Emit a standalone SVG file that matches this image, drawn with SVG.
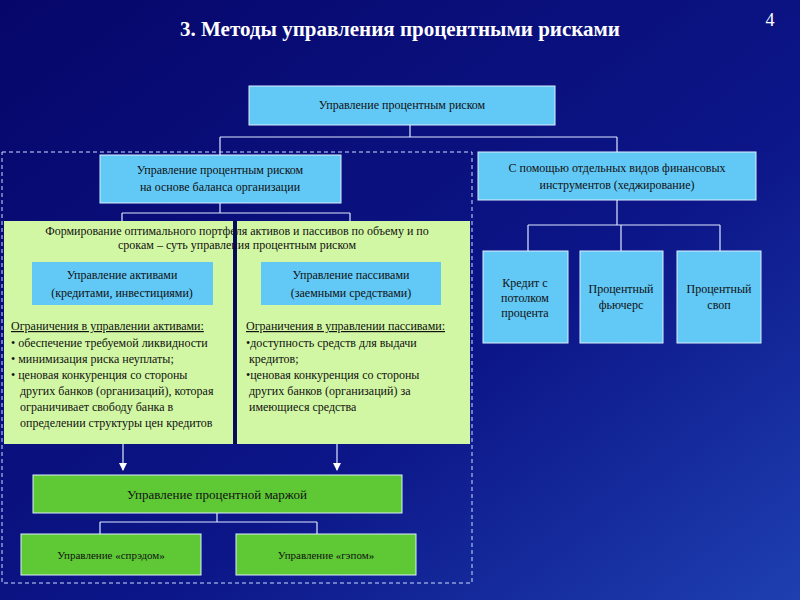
<svg xmlns="http://www.w3.org/2000/svg" width="800" height="600" viewBox="0 0 800 600">
<defs>
<linearGradient id="bg" x1="0" y1="0" x2="1" y2="1">
<stop offset="0" stop-color="#06066a"/><stop offset="0.6" stop-color="#0c1688"/><stop offset="1" stop-color="#1e3fb0"/>
</linearGradient>
<marker id="ar" markerWidth="8" markerHeight="8" refX="7" refY="4" orient="auto" markerUnits="userSpaceOnUse"><path d="M0,0 L8,4 L0,8 z" fill="#fff"/></marker>
</defs>
<style>
.b{fill:#62c8f6;stroke:#ddeeff;stroke-width:1}
.g{fill:#d2f7a4}
.m{fill:#5ec935;stroke:#ddeeff;stroke-width:1}
text{font-family:"Liberation Serif",serif;font-size:12px;fill:#111}
.c{text-anchor:middle}
.ln{fill:none;stroke:#dde8ff;stroke-width:1.2}
</style>
<rect width="800" height="600" fill="url(#bg)"/>
<text x="400" y="36" class="c" style="font-size:21px;font-weight:bold;fill:#fff">3. Методы управления процентными рисками</text>
<text x="770" y="26" class="c" style="font-size:18px;fill:#fff">4</text>
<g id="connectors">
<path class="ln" d="M410,125 V137 M220,137 H617 M220,137 V155 M617,137 V152 M617,200 V225 M528,225 H720 M528,225 V251 M621,225 V251 M720,225 V251 M220,203 V213 M122,213 H350 M122,213 V221 M350,213 V221 M217,513 V522 M100,522 H317 M100,522 V534 M317,522 V534"/>
<path class="ln" d="M123,444 V470" marker-end="url(#ar)"/>
<path class="ln" d="M337,444 V470" marker-end="url(#ar)"/>
<rect x="2" y="152" width="470" height="431" fill="none" stroke="#ccddff" stroke-width="1" stroke-dasharray="4,3"/>
</g>
<g id="top"><rect class="b" x="249" y="86" width="306" height="39"/><text x="402" y="109" class="c">Управление процентным риском</text></g>
<g id="balance"><rect class="b" x="100" y="155" width="241" height="48"/><text x="220" y="174" class="c">Управление процентным риском</text><text x="220" y="191" class="c">на основе баланса организации</text></g>
<g id="hedge"><rect class="b" x="478" y="152" width="278" height="48"/><text x="617" y="172" class="c">С помощью отдельных видов финансовых</text><text x="617" y="189" class="c">инструментов (хеджирование)</text></g>
<g id="cap"><rect class="b" x="483" y="251" width="85" height="92"/><text x="525" y="287" class="c">Кредит с</text><text x="525" y="302" class="c">потолком</text><text x="525" y="317" class="c">процента</text></g>
<g id="fut"><rect class="b" x="580" y="251" width="83" height="92"/><text x="621" y="293" class="c">Процентный</text><text x="621" y="309" class="c">фьючерс</text></g>
<g id="swap"><rect class="b" x="677" y="251" width="84" height="92"/><text x="719" y="293" class="c">Процентный</text><text x="719" y="309" class="c">своп</text></g>
<g id="portfolio">
<rect class="g" x="4" y="221" width="229" height="223"/>
<rect class="g" x="237" y="221" width="233" height="223"/>
<text x="237" y="235" class="c">Формирование оптимального портфеля активов и пассивов по объему и по</text>
<text x="237" y="249" class="c">срокам – суть управления процентным риском</text>
<line x1="235" y1="221" x2="235" y2="444" stroke="#0a0a50" stroke-width="3"/>
</g>
<g id="assets"><rect x="32" y="262" width="181" height="43" fill="#62c8f6"/><text x="122" y="279" class="c">Управление активами</text><text x="122" y="297" class="c">(кредитами, инвестициями)</text></g>
<g id="liab"><rect x="261" y="262" width="180" height="43" fill="#62c8f6"/><text x="351" y="279" class="c">Управление пассивами</text><text x="351" y="297" class="c">(заемными средствами)</text></g>
<g id="assetlimits">
<text x="11" y="330" text-decoration="underline">Ограничения в управлении активами:</text>
<text x="11" y="347">•  обеспечение требуемой ликвидности</text>
<text x="11" y="363">•  минимизация риска неуплаты;</text>
<text x="11" y="379">•  ценовая конкуренция со стороны</text>
<text x="20" y="395">других банков (организаций), которая</text>
<text x="20" y="411">ограничивает свободу банка в</text>
<text x="20" y="427">определении структуры цен кредитов</text>
</g>
<g id="liablimits">
<text x="246" y="330" text-decoration="underline">Ограничения в управлении пассивами:</text>
<text x="246" y="347">•доступность средств для выдачи</text>
<text x="249" y="363">кредитов;</text>
<text x="246" y="379">•ценовая конкуренция со стороны</text>
<text x="249" y="395">других банков (организаций) за</text>
<text x="249" y="411">имеющиеся средства</text>
</g>
<g id="margin"><rect class="m" x="33" y="475" width="369" height="38"/><text x="217" y="499" class="c" style="font-size:13px">Управление процентной маржой</text></g>
<g id="spread"><rect class="m" x="21" y="534" width="180" height="41"/><text x="111" y="559" class="c" style="font-size:11px">Управление «спрэдом»</text></g>
<g id="gap"><rect class="m" x="236" y="534" width="180" height="41"/><text x="326" y="559" class="c" style="font-size:11px">Управление «гэпом»</text></g>
</svg>
